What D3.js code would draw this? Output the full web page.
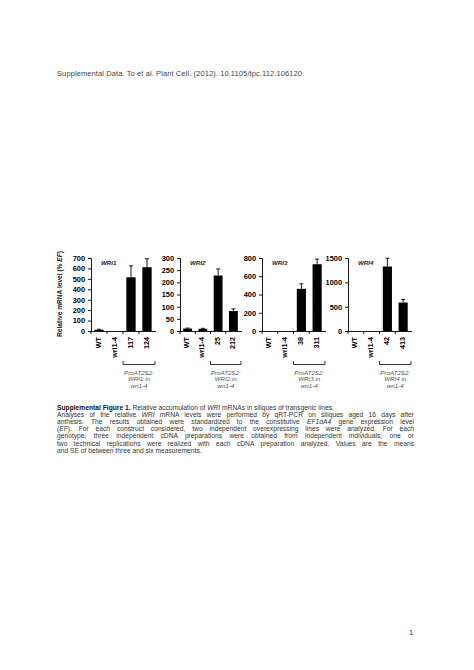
<!DOCTYPE html>
<html>
<head>
<meta charset="utf-8">
<script src="https://cdn.jsdelivr.net/npm/d3@7"></script>
<style>
body { margin: 0; background: #fff; }
text { font-family: "Liberation Sans", Arial, sans-serif; }
</style>
</head>
<body>
<script>
// values
var genes = ["WRI1", "WRI2", "WRI3", "WRI4"];

var wri1Lines = ["WT", "wri1-4", "117", "124"];
var wri1Means = [12, 0, 515, 612];
var wri1Errors = [5, 0, 110, 80];
var wri1Ticks = [0, 100, 200, 300, 400, 500, 600, 700];

var wri2Lines = ["WT", "wri1-4", "25", "212"];
var wri2Means = [10, 9, 228, 82];
var wri2Errors = [2, 2, 27, 9];
var wri2Ticks = [0, 50, 100, 150, 200, 250, 300];

var wri3Lines = ["WT", "wri1-4", "38", "311"];
var wri3Means = [0, 0, 462, 732];
var wri3Errors = [0, 0, 55, 55];
var wri3Ticks = [0, 200, 400, 600, 800];

var wri4Lines = ["WT", "wri1-4", "42", "413"];
var wri4Means = [0, 0, 1325, 585];
var wri4Errors = [0, 0, 170, 60];
var wri4Ticks = [0, 500, 1000, 1500];

var panels = [
  {gene: genes[0], cats: wri1Lines, means: wri1Means, errs: wri1Errors, ticks: wri1Ticks},
  {gene: genes[1], cats: wri2Lines, means: wri2Means, errs: wri2Errors, ticks: wri2Ticks},
  {gene: genes[2], cats: wri3Lines, means: wri3Means, errs: wri3Errors, ticks: wri3Ticks},
  {gene: genes[3], cats: wri4Lines, means: wri4Means, errs: wri4Errors, ticks: wri4Ticks}
];

// pixel layout of each panel
var panelRange = [[91, 155], [180, 241], [262, 325], [348, 411]];
var yTop = 258, yBottom = 331;

var svg = d3.select("body").append("svg")
  .attr("width", 474)
  .attr("height", 670)
  .style("background-color", "#fff");

svg.append("text")
  .attr("x", 57)
  .attr("y", 76)
  .attr("font-size", "7.5px")
  .attr("fill", "#444")
  .attr("textLength", 245)
  .attr("lengthAdjust", "spacing")
  .text("Supplemental Data. To et al. Plant Cell. (2012). 10.1105/tpc.112.106120");

// y axis title
var yt = svg.append("text")
  .attr("transform", "translate(62,294) rotate(-90)")
  .attr("text-anchor", "middle")
  .attr("font-size", "6.6px")
  .attr("font-weight", "bold")
  .attr("fill", "#222");
yt.append("tspan").text("Relative mRNA level (% ");
yt.append("tspan").attr("font-style", "italic").text("EF");
yt.append("tspan").text(")");

panels.forEach(function(p, i) {
  var r = panelRange[i];
  var x = d3.scaleBand().domain(p.cats).range(r).paddingInner(0.42).paddingOuter(0.21);
  var y = d3.scaleLinear().domain([0, d3.max(p.ticks)]).range([yBottom, yTop]);
  var g = svg.append("g");

  var ya = g.append("g")
    .attr("transform", "translate(" + r[0] + ",0)")
    .call(d3.axisLeft(y).tickValues(p.ticks).tickSize(3).tickPadding(3).tickFormat(d3.format("d")));
  ya.selectAll("path,line").attr("stroke", "#000").attr("stroke-width", 0.9);
  ya.selectAll("text")
    .attr("font-size", "7.4px")
    .attr("font-weight", "bold")
    .attr("font-family", "'Liberation Sans', Arial, sans-serif")
    .attr("fill", "#000");

  var xa = g.append("g")
    .attr("transform", "translate(0," + yBottom + ")")
    .call(d3.axisBottom(x).tickSize(3).tickSizeOuter(0));
  xa.select(".domain").attr("d", "M" + r[0] + ",0.5H" + (r[1] + 1));
  xa.selectAll("path,line").attr("stroke", "#000").attr("stroke-width", 0.9);
  xa.selectAll("line").attr("x1", -x.step() / 2).attr("x2", -x.step() / 2);
  xa.selectAll("text")
    .attr("font-size", "7.2px")
    .attr("font-weight", "bold")
    .attr("font-family", "'Liberation Sans', Arial, sans-serif")
    .attr("fill", "#000")
    .attr("text-anchor", "end")
    .attr("transform", "rotate(-90)")
    .attr("x", -6)
    .attr("y", -1)
    .attr("dy", "0.35em");

  g.selectAll(".bar")
    .data(p.means)
    .enter().append("rect")
    .attr("class", "bar")
    .attr("x", function(d, j) { return x(p.cats[j]); })
    .attr("y", function(d) { return y(d); })
    .attr("width", x.bandwidth())
    .attr("height", function(d) { return yBottom - y(d); })
    .attr("fill", "#000");

  // error bars, only where an SE was drawn
  var errIdx = d3.range(p.cats.length).filter(function(j) { return p.errs[j] > 0; });
  var cx = function(j) { return x(p.cats[j]) + x.bandwidth() / 2; };
  var top = function(j) { return y(p.means[j] + p.errs[j]); };
  g.selectAll(".errv")
    .data(errIdx)
    .enter().append("line")
    .attr("class", "errv")
    .attr("x1", cx).attr("x2", cx)
    .attr("y1", function(j) { return y(p.means[j]); })
    .attr("y2", top)
    .attr("stroke", "#000")
    .attr("stroke-width", 0.9);
  g.selectAll(".errh")
    .data(errIdx)
    .enter().append("line")
    .attr("class", "errh")
    .attr("x1", function(j) { return cx(j) - 2; })
    .attr("x2", function(j) { return cx(j) + 2; })
    .attr("y1", top).attr("y2", top)
    .attr("stroke", "#000")
    .attr("stroke-width", 0.9);

  g.append("text")
    .attr("x", r[0] + 10)
    .attr("y", 265)
    .attr("font-size", "6.2px")
    .attr("font-style", "italic")
    .attr("font-weight", "bold")
    .attr("fill", "#222")
    .text(p.gene);

  // bracket under the two transgenic lines
  var bx0 = x(p.cats[2]) - x.step() * x.paddingInner() / 2;
  var bx1 = r[1];
  g.append("path")
    .attr("d", "M" + bx0 + ",361V364.5H" + bx1 + "V361")
    .attr("fill", "none")
    .attr("stroke", "#000")
    .attr("stroke-width", 0.8);

  var note = g.append("text")
    .attr("x", (bx0 + bx1) / 2)
    .attr("y", 374.5)
    .attr("text-anchor", "middle")
    .attr("font-size", "6.2px")
    .attr("font-style", "italic")
    .attr("fill", "#555");
  note.append("tspan").attr("x", (bx0 + bx1) / 2).attr("dy", 0).text("ProAT2S2:");
  note.append("tspan").attr("x", (bx0 + bx1) / 2).attr("dy", 6.9).text(p.gene + " in");
  note.append("tspan").attr("x", (bx0 + bx1) / 2).attr("dy", 6.9).text("wri1-4");
});

// caption, one entry per printed line: [text, style]
var caption = [
  [["Supplemental Figure 1.", "b"], [" Relative accumulation of ", ""], ["WRI", "i"], [" mRNAs in siliques of transgenic lines.", ""]],
  [["Analyses of the relative ", ""], ["WRI", "i"], [" mRNA levels were performed by qRT-PCR on siliques aged 16 days after", ""]],
  [["anthesis. The results obtained were standardized to the constitutive ", ""], ["EF1\u03b1A4", "i"], [" gene expression level", ""]],
  [["(", ""], ["EF", "i"], ["). For each construct considered, two independent overexpressing lines were analyzed. For each", ""]],
  [["genotype, three independent cDNA preparations were obtained from independent individuals; one or", ""]],
  [["two technical replications were realized with each cDNA preparation analyzed. Values are the means", ""]],
  [["and SE of between three and six measurements.", ""]]
];
var capLeft = 57, capWidth = 357;

caption.forEach(function(line, k) {
  var t = svg.append("text")
    .attr("x", capLeft)
    .attr("y", 409.5 + k * 7.2)
    .attr("font-size", "6.7px")
    .attr("fill", "#333");
  line.forEach(function(s) {
    t.append("tspan")
      .attr("font-weight", s[1] == "b" ? "bold" : null)
      .attr("font-style", s[1] == "i" ? "italic" : null)
      .attr("fill", s[1] == "b" ? "#111" : null)
      .text(s[0]);
  });
  if (k > 0 && k < caption.length - 1) {
    var len = t.node().getComputedTextLength();
    var spaces = line.map(function(s) { return s[0]; }).join("").split(" ").length - 1;
    t.attr("word-spacing", Math.max(0, (capWidth - len) / spaces));
  }
});

svg.append("text")
  .attr("x", 409)
  .attr("y", 635)
  .attr("font-size", "7.5px")
  .attr("fill", "#333")
  .text("1");
</script>
</body>
</html>
